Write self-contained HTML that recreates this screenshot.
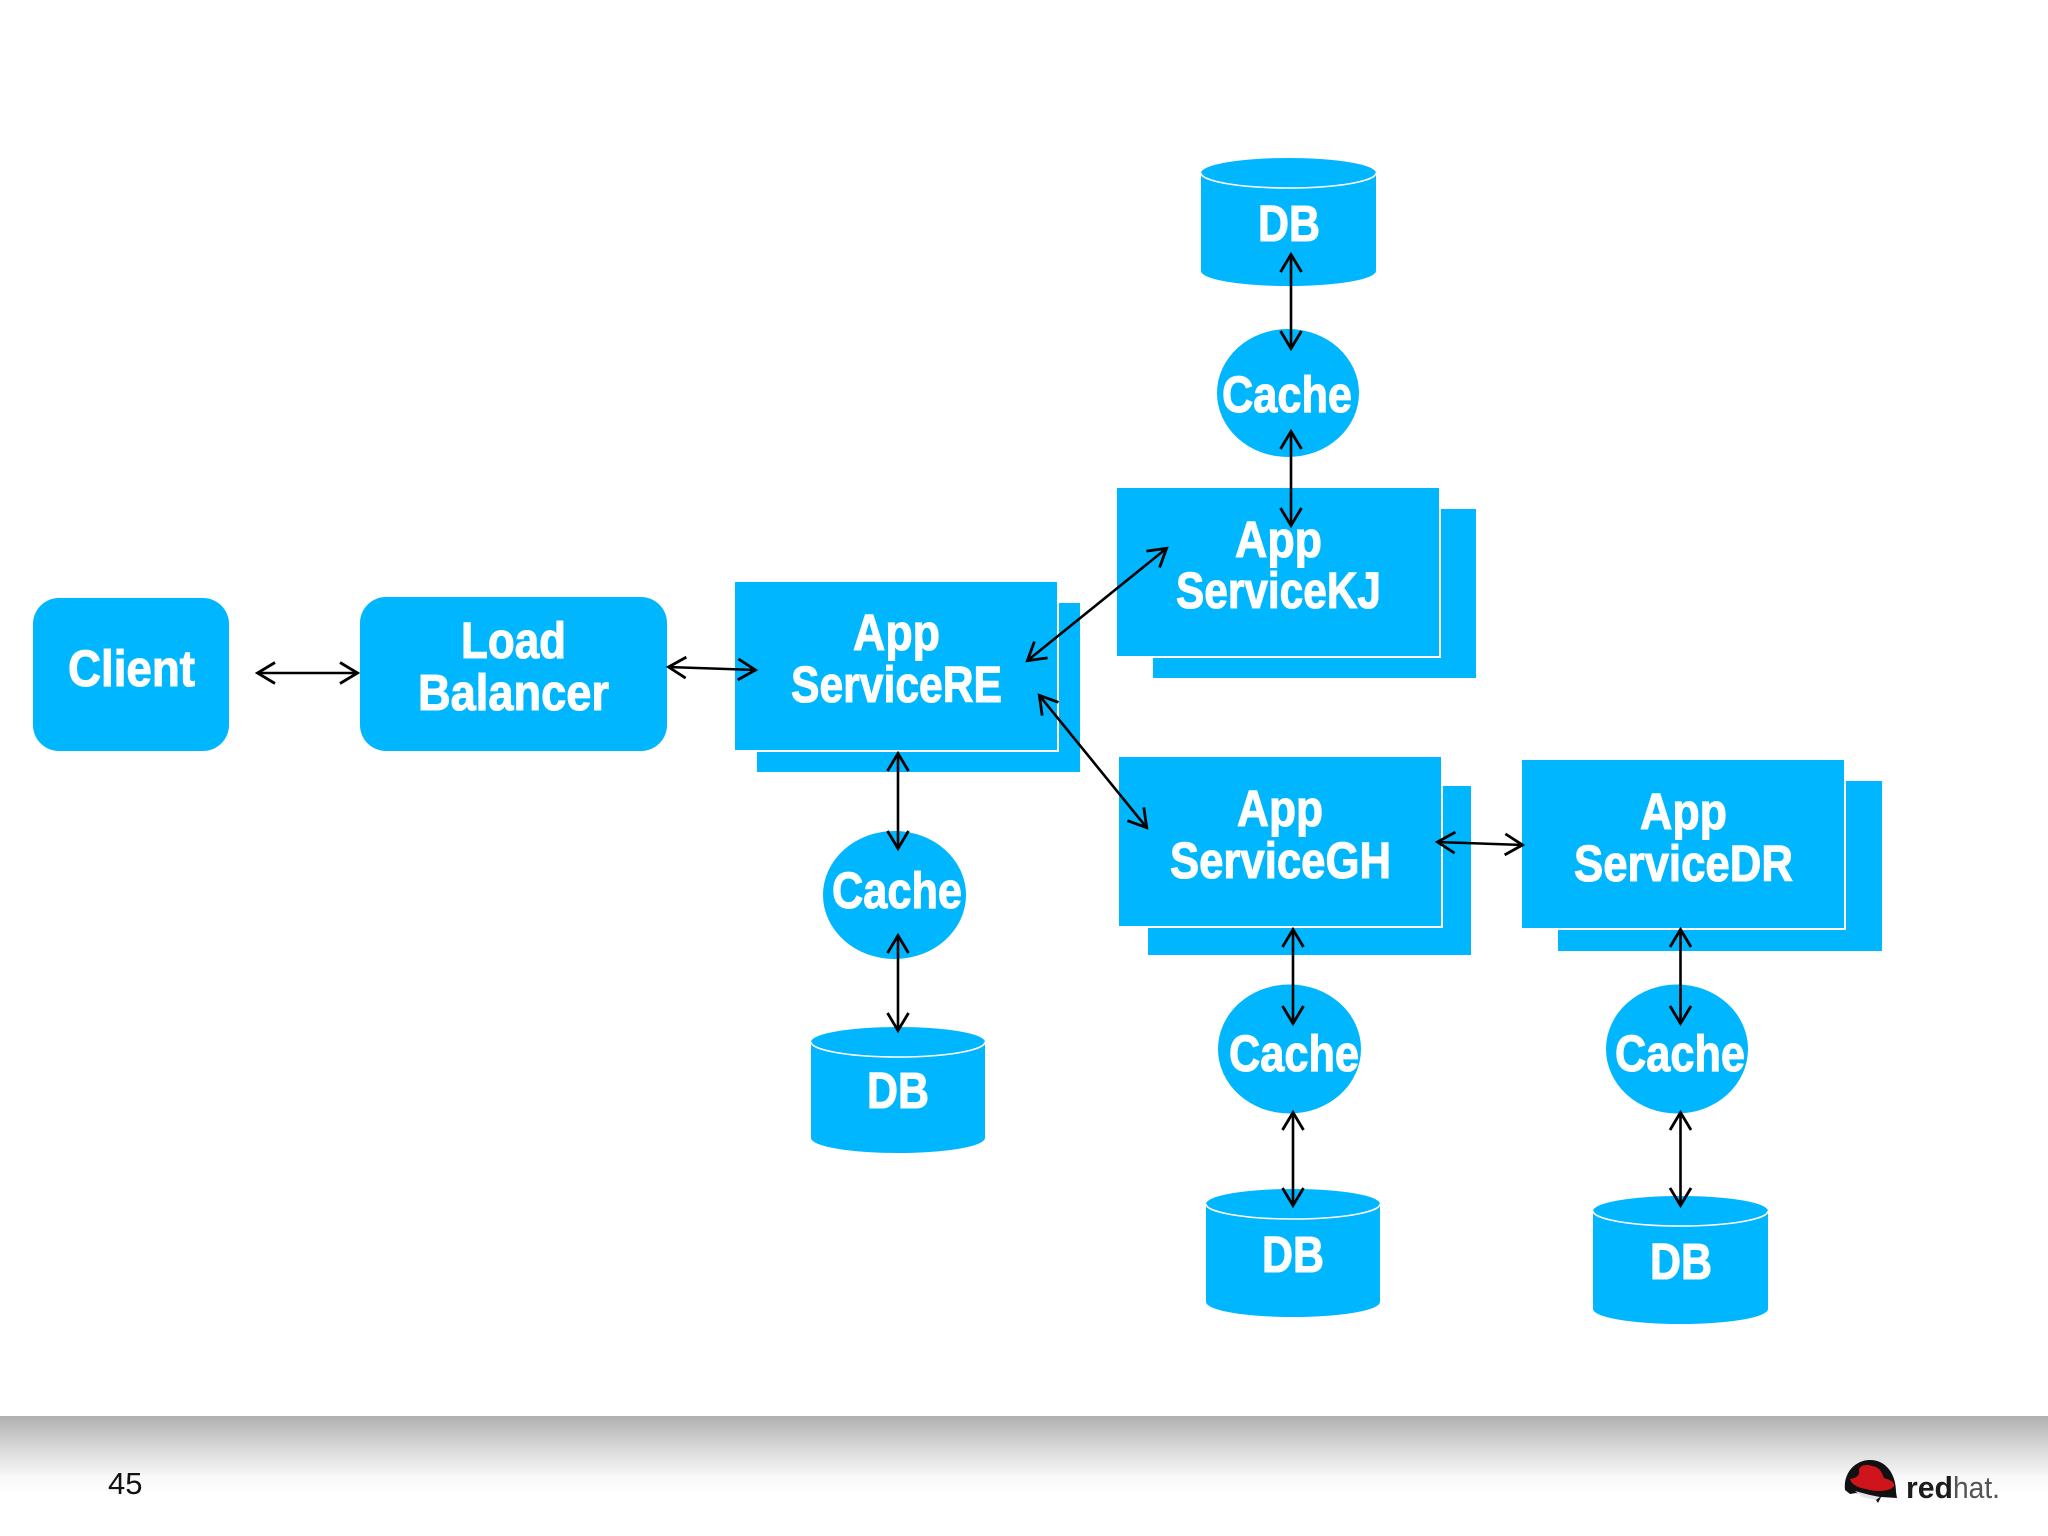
<!DOCTYPE html>
<html><head><meta charset="utf-8"><title>Diagram</title>
<style>
html,body{margin:0;padding:0;background:#fff}
svg{display:block}
text{font-family:"Liberation Sans",sans-serif}
.t{font-weight:700;font-size:51px;fill:#fff;stroke:#fff;stroke-width:1.1px}
.a{stroke:#000;stroke-width:2.6;fill:none;marker-start:url(#h);marker-end:url(#h)}
.b{fill:#00b6ff}
.w{fill:none;stroke:#fff;stroke-width:2}
.c{fill:none;stroke:#fff;stroke-width:1.6}
</style></head><body>
<svg xmlns="http://www.w3.org/2000/svg" width="2048" height="1536" viewBox="0 0 2048 1536">
<defs>
<marker id="h" markerUnits="userSpaceOnUse" markerWidth="30" markerHeight="30" refX="21" refY="12" orient="auto-start-reverse" overflow="visible">
<path d="M3 1.500L20.500 12L3 22.500" fill="none" stroke="#000" stroke-width="2.8"/>
</marker>
<linearGradient id="g" x1="0" y1="0" x2="0" y2="1">
<stop offset="0" stop-color="#b0b0b0"/><stop offset=".4" stop-color="#d8d8d8"/><stop offset=".76" stop-color="#f8f8f8"/><stop offset="1" stop-color="#fff"/>
</linearGradient>
</defs>
<rect width="2048" height="1536" fill="#fff"/>
<rect x="0" y="1416" width="2048" height="80" fill="url(#g)"/>

<!-- Client and load balancer -->
<rect class="b" x="33" y="598" width="196" height="153" rx="26"/>
<rect class="b" x="360" y="597" width="307" height="154" rx="26"/>

<!-- App service stacks -->
<rect class="b" x="757" y="603" width="323" height="169"/>
<rect class="b" x="735" y="582" width="322" height="168"/>
<path class="w" d="M735 751H1058V603"/>
<rect class="b" x="1153" y="509" width="323" height="169"/>
<rect class="b" x="1117" y="488" width="322" height="168"/>
<path class="w" d="M1117 657H1440V509"/>
<rect class="b" x="1148" y="786" width="323" height="169"/>
<rect class="b" x="1119" y="757" width="322" height="169"/>
<path class="w" d="M1148 927H1442V786"/>
<rect class="b" x="1558" y="781" width="324" height="170"/>
<rect class="b" x="1522" y="760" width="322" height="168"/>
<path class="w" d="M1558 929H1845V781"/>

<!-- Caches -->
<ellipse class="b" cx="1288" cy="393" rx="71" ry="64"/>
<ellipse class="b" cx="894.500" cy="895" rx="71.500" ry="64"/>
<ellipse class="b" cx="1289.500" cy="1049" rx="71.500" ry="64.500"/>
<ellipse class="b" cx="1677" cy="1049" rx="71" ry="64.500"/>

<!-- Databases -->
<path class="b" d="M1201 173A87.500 15 0 0 1 1376 173V271A87.500 15 0 0 1 1201 271Z"/>
<path class="c" d="M1201 173A87.500 15 0 0 0 1376 173"/>
<path class="b" d="M811 1042A87 15 0 0 1 985 1042V1138A87 15 0 0 1 811 1138Z"/>
<path class="c" d="M811 1042A87 15 0 0 0 985 1042"/>
<path class="b" d="M1206 1204A87 15 0 0 1 1380 1204V1302A87 15 0 0 1 1206 1302Z"/>
<path class="c" d="M1206 1204A87 15 0 0 0 1380 1204"/>
<path class="b" d="M1593 1211A87.500 15 0 0 1 1768 1211V1309A87.500 15 0 0 1 1593 1309Z"/>
<path class="c" d="M1593 1211A87.500 15 0 0 0 1768 1211"/>

<!-- Labels -->
<text class="t" x="68" y="686" textLength="127" lengthAdjust="spacingAndGlyphs">Client</text>
<text class="t" x="461" y="658" textLength="105" lengthAdjust="spacingAndGlyphs">Load</text>
<text class="t" x="418" y="710" textLength="191" lengthAdjust="spacingAndGlyphs">Balancer</text>
<text class="t" x="853" y="650" textLength="87" lengthAdjust="spacingAndGlyphs">App</text>
<text class="t" x="791" y="702" textLength="211" lengthAdjust="spacingAndGlyphs">ServiceRE</text>
<text class="t" x="1235" y="557" textLength="87" lengthAdjust="spacingAndGlyphs">App</text>
<text class="t" x="1176" y="608" textLength="205" lengthAdjust="spacingAndGlyphs">ServiceKJ</text>
<text class="t" x="1237" y="826" textLength="86" lengthAdjust="spacingAndGlyphs">App</text>
<text class="t" x="1170" y="878" textLength="221" lengthAdjust="spacingAndGlyphs">ServiceGH</text>
<text class="t" x="1640" y="829" textLength="87" lengthAdjust="spacingAndGlyphs">App</text>
<text class="t" x="1574" y="881" textLength="219" lengthAdjust="spacingAndGlyphs">ServiceDR</text>
<text class="t" x="1222" y="412" textLength="130" lengthAdjust="spacingAndGlyphs">Cache</text>
<text class="t" x="832" y="908" textLength="130" lengthAdjust="spacingAndGlyphs">Cache</text>
<text class="t" x="1229" y="1071" textLength="130" lengthAdjust="spacingAndGlyphs">Cache</text>
<text class="t" x="1615" y="1071" textLength="130" lengthAdjust="spacingAndGlyphs">Cache</text>
<text class="t" x="1258" y="241" textLength="62" lengthAdjust="spacingAndGlyphs">DB</text>
<text class="t" x="867" y="1108" textLength="62" lengthAdjust="spacingAndGlyphs">DB</text>
<text class="t" x="1262" y="1272" textLength="62" lengthAdjust="spacingAndGlyphs">DB</text>
<text class="t" x="1650" y="1279" textLength="62" lengthAdjust="spacingAndGlyphs">DB</text>

<!-- Connectors -->
<line class="a" x1="257" y1="673" x2="358" y2="673"/>
<line class="a" x1="668" y1="667" x2="756" y2="670"/>
<line class="a" x1="1291" y1="254" x2="1291" y2="349"/>
<line class="a" x1="1291" y1="431" x2="1291" y2="526"/>
<line class="a" x1="1027" y1="661" x2="1167" y2="548"/>
<line class="a" x1="1039" y1="695" x2="1147" y2="828"/>
<line class="a" x1="898" y1="753" x2="898" y2="849"/>
<line class="a" x1="898" y1="935" x2="898" y2="1031"/>
<line class="a" x1="1437" y1="842" x2="1523" y2="845"/>
<line class="a" x1="1293" y1="929" x2="1293" y2="1024"/>
<line class="a" x1="1293" y1="1112" x2="1293" y2="1206"/>
<line class="a" x1="1680.500" y1="929" x2="1680.500" y2="1024"/>
<line class="a" x1="1680.500" y1="1112" x2="1680.500" y2="1206"/>

<!-- Footer -->
<text x="108" y="1494" font-size="31" fill="#111">45</text>
<path d="M1845 1490C1843 1472 1856 1460 1870 1460C1886 1460 1896 1474 1896 1492L1897 1498L1881 1497L1878 1503L1874 1497L1856 1493L1850 1494Z" fill="#111"/>
<path d="M1850 1479C1856 1478 1860 1476 1859 1470C1860 1465 1866 1464 1872 1466C1880 1467 1882 1473 1884 1478C1890 1480 1895 1482 1894 1486C1890 1492 1876 1492 1866 1489C1858 1488 1851 1484 1850 1479Z" fill="#d0141b"/>
<path d="M1855 1491L1870 1495L1880 1497L1876 1500L1862 1497Z" fill="#e4e4e4"/>
<text x="1906" y="1498" font-size="31" font-weight="700" fill="#1c1c1c" textLength="47" lengthAdjust="spacingAndGlyphs">red</text>
<text x="1953" y="1498" font-size="31" fill="#555" textLength="47" lengthAdjust="spacingAndGlyphs">hat.</text>
</svg>
</body></html>
